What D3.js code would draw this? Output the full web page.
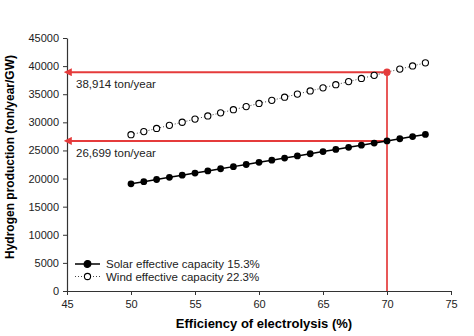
<!DOCTYPE html>
<html>
<head>
<meta charset="utf-8">
<script src="https://cdn.jsdelivr.net/npm/d3@7"></script>
<style>
  body { margin: 0; background: #fff; }
  svg { font-family: "Liberation Sans", Arial, sans-serif; }
</style>
</head>
<body>
<svg id="chart" width="474" height="336"></svg>
<script>
// efficiency of electrolysis (%)
const efficiency = [50, 51, 52, 53, 54, 55, 56, 57, 58, 59, 60, 61, 62, 63, 64, 65, 66, 67, 68, 69, 70, 71, 72, 73];
// hydrogen production (ton/year/GW)
const solarValues = [19071, 19452, 19834, 20215, 20596, 20978, 21359, 21741, 22122, 22503, 22885, 23266,
                     23648, 24029, 24411, 24792, 25173, 25555, 25936, 26318, 26699, 27080, 27462, 27843];
const windValues = [27796, 28352, 28908, 29463, 30019, 30575, 31131, 31687, 32243, 32799, 33355, 33911,
                    34467, 35023, 35579, 36134, 36690, 37246, 37802, 38358, 38914, 39470, 40026, 40582];
const xTicks = [45, 50, 55, 60, 65, 70, 75];
const yTicks = [0, 5000, 10000, 15000, 20000, 25000, 30000, 35000, 40000, 45000];
const legendLabels = ["Solar effective capacity 15.3%", "Wind effective capacity 22.3%"];
// highlighted operating point
const markEfficiency = 70;
const markSolar = 26699;
const markWind = 38914;

const red = "#e53b3b";
const svg = d3.select("#chart");
const margin = {left: 67, right: 23, top: 38, bottom: 45};
const W = 474, H = 336;

const x = d3.scaleLinear().domain([45, 75]).range([margin.left, W - margin.right]);
const y = d3.scaleLinear().domain([0, 45000]).range([H - margin.bottom, margin.top]);

// axes
const xAxis = svg.append("g")
    .attr("transform", `translate(0,${y(0)})`)
    .call(d3.axisBottom(x).tickValues(xTicks).tickSize(4).tickSizeOuter(0).tickPadding(5));
const yAxis = svg.append("g")
    .attr("transform", `translate(${x(45)},0)`)
    .call(d3.axisLeft(y).tickValues(yTicks).tickFormat(d3.format("d")).tickSize(4).tickSizeOuter(0).tickPadding(4));
[xAxis, yAxis].forEach(g => {
    g.select(".domain").attr("stroke", "#333").attr("stroke-width", 1.2);
    g.selectAll(".tick line").attr("stroke", "#333");
    g.selectAll(".tick text").attr("font-size", 11).attr("fill", "#222")
        .attr("font-family", "'Liberation Sans', Arial, sans-serif");
});

svg.append("text")
    .attr("x", 264).attr("y", 328)
    .attr("text-anchor", "middle").attr("font-size", 13).attr("font-weight", "bold")
    .text("Efficiency of electrolysis (%)");
svg.append("text")
    .attr("transform", `translate(14,157) rotate(-90)`)
    .attr("text-anchor", "middle").attr("font-size", 12).attr("font-weight", "bold")
    .text("Hydrogen production (ton/year/GW)");

// red guide lines
svg.append("defs").append("marker")
    .attr("id", "arrow").attr("viewBox", "0 0 10 10")
    .attr("refX", 1).attr("refY", 5)
    .attr("markerWidth", 4).attr("markerHeight", 4)
    .attr("orient", "auto-start-reverse")
    .append("path").attr("d", "M0,0L10,5L0,10Z").attr("fill", red);

[markWind, markSolar].forEach(v => {
    svg.append("line")
        .attr("x1", x(markEfficiency)).attr("x2", x(45) + 4)
        .attr("y1", y(v)).attr("y2", y(v))
        .attr("stroke", red).attr("stroke-width", 2)
        .attr("marker-end", "url(#arrow)");
});
svg.append("line")
    .attr("x1", x(markEfficiency)).attr("x2", x(markEfficiency))
    .attr("y1", y(markWind)).attr("y2", y(0))
    .attr("stroke", red).attr("stroke-width", 2).attr("opacity", 0.85);

const labelFmt = d3.format(",");
[markWind, markSolar].forEach(v => {
    svg.append("text")
        .attr("x", x(45) + 9).attr("y", y(v) + 16)
        .attr("font-size", 11.5).attr("fill", "#222")
        .text(`${labelFmt(v)} ton/year`);
});

// series
const solar = efficiency.map((e, i) => [e, solarValues[i]]);
const wind = efficiency.map((e, i) => [e, windValues[i]]);
const line = d3.line().x(d => x(d[0])).y(d => y(d[1]));

svg.append("path").datum(wind).attr("d", line)
    .attr("fill", "none").attr("stroke", "#444").attr("stroke-width", 1)
    .attr("stroke-dasharray", "1,2");
svg.append("path").datum(solar).attr("d", line)
    .attr("fill", "none").attr("stroke", "#000").attr("stroke-width", 1.5);

svg.append("g").selectAll("circle").data(wind).join("circle")
    .attr("cx", d => x(d[0])).attr("cy", d => y(d[1])).attr("r", 3.1)
    .attr("fill", d => d[0] === markEfficiency ? red : "#fff")
    .attr("stroke", d => d[0] === markEfficiency ? red : "#000")
    .attr("stroke-width", 1.1);
svg.append("g").selectAll("circle").data(solar).join("circle")
    .attr("cx", d => x(d[0])).attr("cy", d => y(d[1])).attr("r", 3.4)
    .attr("fill", "#000");

// legend
const legend = svg.append("g").attr("transform", `translate(75,264)`);
legendLabels.forEach((label, i) => {
    const row = legend.append("g").attr("transform", `translate(0,${i * 12.5})`);
    row.append("line").attr("x1", 0).attr("x2", 25).attr("y1", 0).attr("y2", 0)
        .attr("stroke", i === 0 ? "#000" : "#444")
        .attr("stroke-width", i === 0 ? 1.5 : 1)
        .attr("stroke-dasharray", i === 0 ? null : "1,2");
    row.append("circle").attr("cx", 12.5).attr("cy", 0).attr("r", i === 0 ? 3.4 : 3.1)
        .attr("fill", i === 0 ? "#000" : "#fff").attr("stroke", "#000").attr("stroke-width", 1.1);
    row.append("text").attr("x", 31).attr("y", 4)
        .attr("font-size", 11.5).attr("fill", "#222").text(label);
});
</script>
</body>
</html>
